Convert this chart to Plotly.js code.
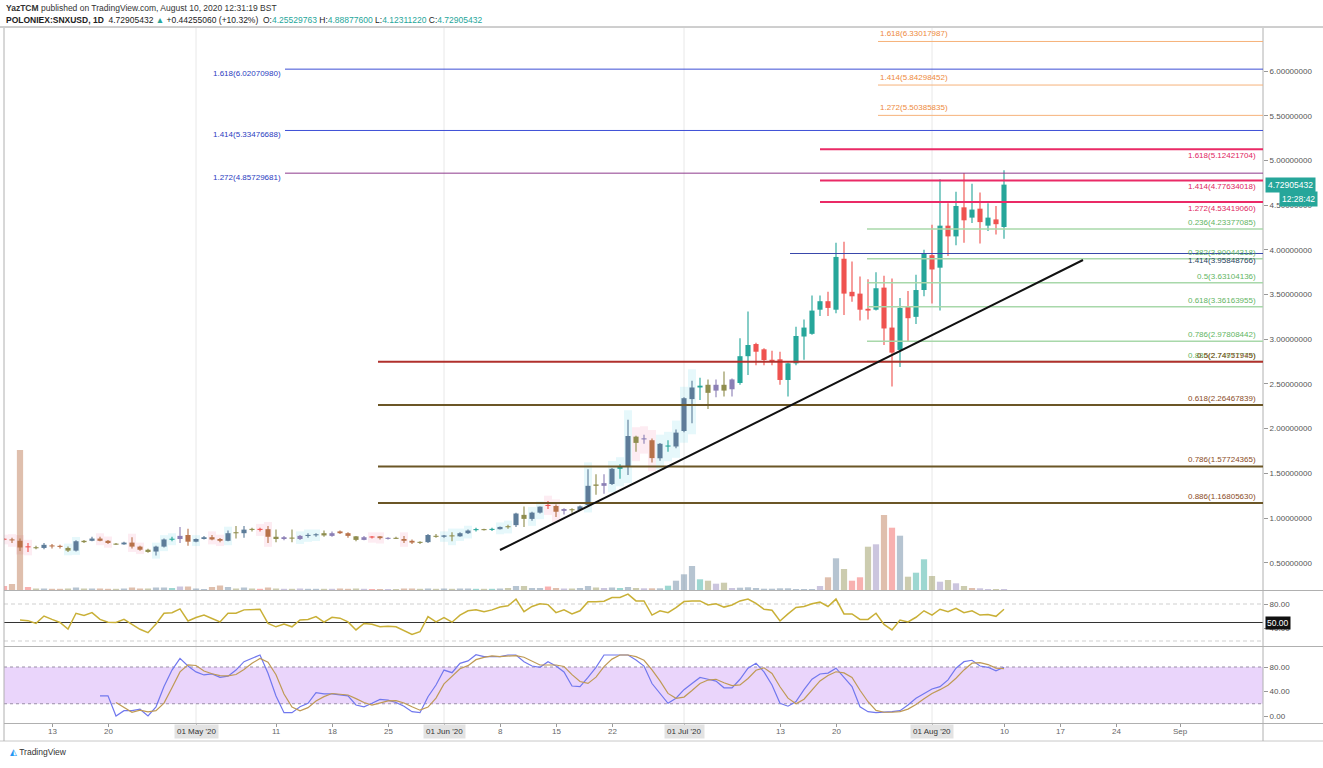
<!DOCTYPE html>
<html><head><meta charset="utf-8">
<script src="https://cdn.plot.ly/plotly-3.0.1.min.js"></script>
<style>html,body{margin:0;padding:0;background:#fff;}#chart{width:1323px;height:768px;}</style>
</head><body><div id="chart"></div>
<script>
// ---------------- DATA ----------------
const startDate = '2020-04-07';   // first daily candle
const open = [0.765,0.76,0.745,0.68,0.67,0.665,0.69,0.685,0.665,0.635,
0.73,0.745,0.77,0.745,0.71,0.705,0.725,0.68,0.645,0.625,
0.68,0.76,0.765,0.81,0.735,0.765,0.785,0.765,0.745,0.83,
0.83,0.87,0.875,0.875,0.79,0.765,0.78,0.765,0.80,0.81,
0.805,0.80,0.85,0.83,0.795,0.755,0.785,0.795,0.77,0.775,
0.765,0.745,0.725,0.73,0.80,0.79,0.80,0.795,0.83,0.865,
0.87,0.87,0.875,0.90,0.92,1.035,0.99,1.06,1.145,1.134,
1.08,1.09,1.09,1.145,1.36,1.36,1.38,1.55,1.574,1.91,
1.88,1.87,1.668,1.80,1.80,1.973,2.33,2.46,2.49,2.425,
2.49,2.44,2.51,2.81,2.946,2.887,2.77,2.775,2.544,2.73,
3.03,3.06,3.33,3.425,3.33,3.90,3.53,3.51,3.34,3.33,
3.577,3.13,2.88,3.365,3.25,3.55,3.94,3.80,4.27,4.15,
4.475,4.36,4.46,4.27,4.34,4.25529763];
const high = [0.775,0.78,0.77,0.72,0.69,0.72,0.71,0.70,0.68,0.75,
0.755,0.79,0.79,0.755,0.72,0.735,0.785,0.69,0.655,0.69,
0.77,0.79,0.90,0.88,0.77,0.80,0.81,0.775,0.86,0.91,
0.91,0.89,0.89,0.91,0.87,0.80,0.87,0.81,0.83,0.83,
0.86,0.85,0.86,0.84,0.80,0.80,0.80,0.80,0.785,0.79,
0.80,0.76,0.74,0.82,0.82,0.81,0.84,0.84,0.87,0.89,
0.88,0.89,0.905,0.925,1.06,1.13,1.07,1.13,1.19,1.15,
1.11,1.11,1.14,1.545,1.49,1.49,1.56,1.60,2.10,1.92,
1.93,1.89,1.84,1.87,1.99,2.35,2.536,2.57,2.55,2.55,
2.64,2.56,3.01,3.31,2.96,2.90,2.87,2.86,2.74,3.14,
3.22,3.49,3.49,3.53,4.08,4.09,3.87,3.70,3.67,3.75,
3.71,3.68,3.46,3.54,3.72,4.00,4.28,4.79,4.52,4.65,
4.86,4.74,4.64,4.52,4.49,4.888776];
const low = [0.75,0.72,0.63,0.62,0.65,0.65,0.66,0.66,0.62,0.625,
0.72,0.74,0.74,0.71,0.70,0.70,0.66,0.635,0.61,0.58,
0.67,0.74,0.72,0.69,0.73,0.76,0.75,0.73,0.74,0.77,
0.78,0.85,0.85,0.72,0.73,0.75,0.73,0.755,0.78,0.79,
0.79,0.79,0.82,0.78,0.74,0.75,0.77,0.76,0.76,0.765,
0.72,0.71,0.71,0.72,0.78,0.78,0.74,0.79,0.82,0.85,
0.86,0.855,0.87,0.88,0.90,0.90,0.97,1.05,1.10,1.01,
1.04,1.06,1.08,1.13,1.26,1.27,1.37,1.44,1.48,1.74,
1.83,1.62,1.64,1.74,1.78,1.96,2.06,2.32,2.22,2.35,
2.36,2.36,2.49,2.60,2.71,2.71,2.71,2.49,2.36,2.71,
2.77,3.05,3.26,3.26,3.29,3.27,3.42,3.21,3.22,3.32,
2.935,2.47,2.69,2.97,3.17,3.48,3.40,3.32,3.93,4.05,
4.08,4.30,4.07,4.21,4.17,4.1231122];
const close = [0.76,0.75,0.67,0.675,0.665,0.70,0.685,0.68,0.635,0.74,
0.745,0.77,0.745,0.72,0.705,0.725,0.68,0.645,0.62,0.68,
0.76,0.765,0.80,0.735,0.765,0.785,0.76,0.745,0.83,0.84,
0.87,0.875,0.87,0.79,0.765,0.785,0.77,0.80,0.81,0.815,
0.83,0.83,0.83,0.80,0.755,0.785,0.79,0.775,0.775,0.77,
0.745,0.725,0.73,0.81,0.79,0.805,0.80,0.83,0.86,0.875,
0.87,0.875,0.90,0.905,1.05,0.99,1.06,1.127,1.135,1.07,
1.10,1.095,1.13,1.36,1.375,1.39,1.55,1.58,1.917,1.84,
1.89,1.67,1.83,1.81,1.955,2.34,2.46,2.48,2.40,2.49,
2.425,2.55,2.81,2.935,2.86,2.767,2.75,2.544,2.73,3.036,
3.13,3.32,3.425,3.35,3.92,3.51,3.48,3.33,3.32,3.57,
3.12,2.85,3.35,3.235,3.55,3.96,3.78,4.27,4.15,4.49,
4.33,4.45,4.31,4.36,4.2865,4.72905432];
const volume = [400,600,14000,300,150,150,120,120,150,250,
150,150,150,120,120,150,250,150,150,250,
250,200,350,350,150,100,300,450,300,150,
250,150,120,250,150,120,120,150,120,120,
120,120,150,120,150,120,100,100,100,100,
150,150,120,150,120,150,120,150,150,120,
120,120,150,200,400,400,200,200,350,200,
150,150,200,400,250,200,250,200,300,200,
170,170,170,430,930,1570,2400,1070,930,630,
730,200,230,270,200,130,130,170,170,100,
100,100,400,1270,3170,2100,930,1270,4330,4570,
7500,6230,5430,1330,1730,3070,1400,830,1000,670,
400,200,170,100,100,100];
const rsi = [null,null,54,53,48.6,60.5,55,50,39.5,65,
61.5,66,55,50.5,50,55,47,39,33.5,47.5,
65,66,72,52.5,58,62,56.5,51,65,65,
70.5,71.5,71.5,48.5,43,47.5,43,54,55,59.5,
50.5,58.5,57,51,38,48.5,47,43,44,43,
36.5,30.5,35,59.5,51,58,50.5,62,69,70.5,
67.5,70.5,75,77,88,67.5,76,80.5,79,66,
70.5,64,69,83.5,83.5,84.5,90.5,90.5,96,85,
85,62,69,66,74,84,85,85,78.5,80.5,
75,78.5,85,88,81,71.5,70,52.5,64,74.5,
76,80.5,83,76,88,64,64,55,55,65,
47,38,54,51,58.5,69,62,71.5,67.5,73,
66,69,62,63,60,71.5];
const stochK = [null,null,null,null,null,null,null,null,null,null,
null,null,33,33,0,8.7,8.7,11,0,15,
48,75,94,81.6,72,67,68.6,63,65,75,
88.7,94,99.6,69.7,32.6,5.4,5.4,15,20.7,38,
36,36,34,33,18,15,20.7,27,26,22,
16,7,5.4,31.5,50.6,75,70.7,86,90,100,
97,97,97,99.6,99.6,88.7,81.6,79.5,88.7,81.6,
72,49,48,63,79.5,99.6,99.6,99.6,99.6,91.4,
81.6,53,37,20.7,29,43,53,63,60,57,
46,46,60,78,86,72,50.6,20.7,16,23.6,
43,60,68.6,70,78,63,48,15,7,5.4,
6,7,8.7,18,29,37,44,48,59,78,
88.7,91,81.6,79.5,73.6,79.5];
const stochD = [null,null,null,null,null,null,null,null,null,null,
null,null,null,null,22,14,6,9.5,6.6,8.7,
21,46,72,83.5,82.5,73.5,69,66,65.5,67.7,
76,86,94,87.8,67.3,35.9,14.5,8.6,13.7,24.6,
31.6,36.7,35.3,34.3,28.3,22,17.9,20.9,24.6,25,
21.3,15,9.5,14.6,29.2,52.4,65.4,77.2,82.2,92,
95.7,98,97,97.9,98.7,96,90,83.3,83.3,83.3,
80.8,67.5,56.3,53.3,63.5,80.7,92.9,99.6,99.6,96.9,
90.9,75.3,57.2,36.9,28.9,30.9,41.7,53,58.7,60,
54.3,49.7,50.7,61.3,74.7,78.7,69.5,47.8,29.1,20.1,
27.5,42.2,57.2,66.2,72.2,70.3,63,42,23.3,9.1,
6.1,6.1,7.2,11.2,18.6,28,36.7,43,50.3,61.7,
75.2,86.2,87.1,84,78.2,77.5];
// colour code of each early bar (indicator bar colouring); later bars use up/down colours
const barTone = ("RBBROSBBOS"+"OSBBOSBBOS"+"STPBSSBBSO"+"SORBOPOPSS"+"OPBBOPRBPO"+
                 "BBOSOSOSST"+"OTSOSOSSRB"+"POSSOPSTSO"+"PBSTSSSTOP"+"OP").split('');
const volToneLate = "SSSSSSSSSSPBSORROPBRSOTTOPOPOBPPOP".split('');
// highlight behind early bars: c = cyan, p = pink, . = none
const barHighlight = ("pppp....cc"+"..pp..pp.c"+"cc..c.ppc."+"..pp...ccc"+"......pp.."+
                      "p....cccc."+"..cc..ccpp"+"...c..cccp"+"ppccccc...").split('');

// x axis tick labels
const tickDates = ['2020-04-13','2020-04-20','2020-05-01','2020-05-11','2020-05-18','2020-05-25','2020-06-01','2020-06-08','2020-06-15','2020-06-22','2020-07-01','2020-07-13','2020-07-20','2020-08-01','2020-08-10','2020-08-17','2020-08-24','2020-09-01'];
const tickLabels = ['13','20',"01 May '20",'11','18','25',"01 Jun '20",'8','15','22',"01 Jul '20",'13','20',"01 Aug '20",'10','17','24','Sep'];
const priceTicks = [0.5,1,1.5,2,2.5,3,3.5,4,4.5,5,5.5,6];

// Fibonacci drawings
const fibOrangeLevels = [1.618,1.414,1.272];
const fibOrangeValues = [6.33017987,5.84298452,5.50385835];
const fibBlueLevels = [1.618,1.414,1.272];
const fibBlueValues = [6.02070980,5.33476688,4.85729681];
const fibRedLevels = [1.618,1.414,1.272];
const fibRedValues = [5.12421704,4.77634018,4.53419060];
const fibGreenLevels = [0.236,0.382,0.5,0.618,0.786,0.886];
const fibGreenValues = [4.23377085,3.90044318,3.63104136,3.36163955,2.97808442,2.74977779];
const fibBrownLevels = [0.5,0.618,0.786,0.886];
const fibBrownValues = [2.74751945,2.26467839,1.57724365,1.16805630];
const fibNavyLevels = [1.414];
const fibNavyValues = [3.95848766];
const trendLineDates = ['2020-06-08','2020-08-19 21:00'];
const trendLineValues = [0.642,3.886];

const lastPrice = 4.72905432;
const countdown = '12:28:42';

// ---------------- LAYOUT HELPERS ----------------
const L=4, R=1263, T=28, B=723;            // plot area in px
const px2x = p => (p-L)/(R-L);
const px2y = p => (B-p)/(B-T);
const DAY = 864e5;
const d0 = new Date(startDate+'T00:00:00Z').getTime();
const dAt = px => new Date(d0 + (px-L)/8*DAY).toISOString().replace('T',' ').slice(0,19);
const xStart = dAt(L), xEnd = dAt(R);

const N = open.length;
const dates = [];
for (let i=0;i<N;i++) dates.push(new Date(d0+i*DAY).toISOString().slice(0,10));

const toneColor = {T:'#26a69a',R:'#ef5350',S:'#5d7c99',O:'#8f8d4e',P:'#8b7fb5',B:'#b8724a'};
const hexA = (h,a)=>{const n=parseInt(h.slice(1),16);return `rgba(${n>>16},${(n>>8)&255},${n&255},${a})`;};
const tones = dates.map((d,i)=> i<barTone.length ? barTone[i] : (close[i]>=open[i]?'T':'R'));
const vtones = dates.map((d,i)=> i<barTone.length ? barTone[i] : volToneLate[i-barTone.length]);
const candleCol = tones.map(t=>toneColor[t]);
const volCol = vtones.map(t=>hexA(toneColor[t],0.45));

const minBody = 0.012;
const bodyH = open.map((o,i)=>Math.max(Math.abs(close[i]-o),minBody));
const bodyBase = open.map((o,i)=>Math.min(o,close[i]) - (bodyH[i]-Math.abs(close[i]-o))/2);

// highlight boxes around the highlighted bars
const hlColor = {c:'rgba(128,222,234,0.20)', p:'rgba(248,187,208,0.28)', '.':'rgba(0,0,0,0)'};
const hlIdx = barHighlight.map((h,i)=>h!=='.'?i:-1).filter(i=>i>=0);
const hlX = hlIdx.map(i=>dates[i]);
const hlBase = hlIdx.map(i=>low[i]*0.94);
const hlH = hlIdx.map(i=>high[i]*1.05-low[i]*0.94);
const hlCol = hlIdx.map(i=>hlColor[barHighlight[i]]);

const traces = [
 {type:'bar', x:hlX, y:hlH, base:hlBase, marker:{color:hlCol,line:{width:0}}, width:1.0*DAY, hoverinfo:'skip'},
 {type:'bar', x:dates, y:volume, yaxis:'y4', marker:{color:volCol,line:{width:0}}, width:0.78*DAY, hoverinfo:'skip'},
 {type:'bar', x:dates, y:high.map((h,i)=>h-low[i]), base:low, marker:{color:candleCol,line:{width:0}}, width:0.14*DAY, hoverinfo:'skip'},
 {type:'bar', x:dates, y:bodyH, base:bodyBase, marker:{color:candleCol,line:{width:0}}, width:0.64*DAY, hoverinfo:'skip'},
 {type:'scatter', mode:'lines', x:dates, y:rsi, yaxis:'y2', line:{color:'#c9b037',width:1.5}, hoverinfo:'skip'},
 {type:'scatter', mode:'lines', x:dates, y:stochK, yaxis:'y3', line:{color:'#7178ee',width:1.2}, hoverinfo:'skip'},
 {type:'scatter', mode:'lines', x:dates, y:stochD, yaxis:'y3', line:{color:'#bf9a55',width:1.2}, hoverinfo:'skip'}
];

const shapes = [];
const annotations = [];
const txt = (o)=>annotations.push(Object.assign({showarrow:false, font:{family:'Liberation Sans, Arial', size:8, color:'#555'}}, o));

// frame / pane separators
const hline = (py,x0,x1,color,w)=>shapes.push({type:'line',xref:'paper',yref:'paper',x0:px2x(x0),x1:px2x(x1),y0:px2y(py),y1:px2y(py),line:{color:color,width:w||1},layer:'above'});
hline(27,0,1323,'#9e9e9e',1);
hline(590.5,L,1323,'#b0b0b0',1);
hline(646.5,L,1323,'#b0b0b0',1);
hline(723.5,L,1323,'#b0b0b0',1);
hline(741,0,1323,'#c8c8c8',1);
shapes.push({type:'line',xref:'paper',yref:'paper',x0:px2x(L),x1:px2x(L),y0:px2y(28),y1:px2y(741),line:{color:'#b0b0b0',width:1}});
shapes.push({type:'line',xref:'paper',yref:'paper',x0:px2x(R),x1:px2x(R),y0:px2y(28),y1:px2y(741),line:{color:'#b0b0b0',width:1}});

// month grid lines
tickLabels.forEach((t,k)=>{ if(t.indexOf("'20")>0) shapes.push({type:'line',xref:'x',yref:'paper',x0:tickDates[k],x1:tickDates[k],y0:0,y1:1,line:{color:'#e8e8e8',width:1},layer:'below'}); });

// RSI guides
[80,20].forEach(v=>shapes.push({type:'line',xref:'paper',yref:'y2',x0:0,x1:1,y0:v,y1:v,line:{color:'#cfcfcf',width:1,dash:'4px,3px'},layer:'below'}));
shapes.push({type:'line',xref:'paper',yref:'y2',x0:0,x1:1,y0:50,y1:50,line:{color:'#333',width:1},layer:'below'});
// Stoch RSI band
shapes.push({type:'rect',xref:'paper',yref:'y3',x0:0,x1:1,y0:20,y1:80,fillcolor:'#ead5fb',line:{width:0},layer:'below'});
[80,20].forEach(v=>shapes.push({type:'line',xref:'paper',yref:'y3',x0:0,x1:1,y0:v,y1:v,line:{color:'#9a8fa8',width:1.2,dash:'3px,3px'},layer:'below'}));

// fib drawing helper
function fib(levels, values, startPx, lineColors, width, labelColor, mode){
  levels.forEach((lv,k)=>{
    const v = values[k];
    shapes.push({type:'line',xref:'x',yref:'y',x0:dAt(startPx),x1:xEnd,y0:v,y1:v,line:{color:Array.isArray(lineColors)?lineColors[k]:lineColors,width:width},layer:'above'});
    const label = lv+'('+v.toFixed(8)+')';
    const f = {family:'Liberation Sans, Arial',size:8,color:Array.isArray(labelColor)?labelColor[k]:labelColor};
    if(mode==='leftOut') txt({xref:'x',yref:'y',x:dAt(startPx-2),y:v,xanchor:'right',yanchor:'middle',yshift:-4,text:label,font:f});
    else if(mode==='leftAbove') txt({xref:'x',yref:'y',x:dAt(startPx),y:v,xanchor:'left',yanchor:'bottom',yshift:1,text:label,font:f});
    else if(mode==='rightAbove') txt({xref:'paper',yref:'y',x:px2x(1258),y:v,xanchor:'right',yanchor:'bottom',yshift:0,text:label,font:f});
    else txt({xref:'paper',yref:'y',x:px2x(1258),y:v,xanchor:'right',yanchor:'top',yshift:0,text:label,font:f});
  });
}
fib(fibOrangeLevels,fibOrangeValues,878,'#f6b27a',1,'#ee8a3c','leftAbove');
fib(fibBlueLevels,fibBlueValues,285,['#3d4fd6','#3d4fd6','#8e3a8c'],1,'#2b3cc0','leftOut');
fib(fibRedLevels,fibRedValues,820,'#ea2a66',2,'#e0245e','rightBelow');
fib(fibGreenLevels,fibGreenValues,867,'#a8d8aa',1.5,'#5fb563','rightAbove');
fib(fibBrownLevels,fibBrownValues,378,['#b0302c','#6b5626','#6b5626','#6b5626'],2,'#8a4b25','rightAbove');
fib(fibNavyLevels,fibNavyValues,790,'#3948ab',1,'#27445e','rightBelow');

// trend line
shapes.push({type:'line',xref:'x',yref:'y',x0:trendLineDates[0],x1:trendLineDates[1],y0:trendLineValues[0],y1:trendLineValues[1],line:{color:'#111',width:2},layer:'above'});

// header
txt({xref:'paper',yref:'paper',x:px2x(4),y:px2y(8),xanchor:'left',yanchor:'middle',
  text:'<b>YazTCM</b> published on TradingView.com, August 10, 2020 12:31:19 BST',font:{family:'Liberation Sans, Arial',size:8.5,color:'#333'}});
const g = s=>'<span style="color:#26a69a">'+s+'</span>';
txt({xref:'paper',yref:'paper',x:px2x(4),y:px2y(20),xanchor:'left',yanchor:'middle',
  text:'<b>POLONIEX:SNXUSD, 1D</b>  4.72905432 '+g('▲')+' +0.44255060 (+10.32%)  O:'+g('4.25529763')+' H:'+g('4.88877600')+' L:'+g('4.12311220')+' C:'+g('4.72905432'),
  font:{family:'Liberation Sans, Arial',size:8.5,color:'#222'}});

// last price & countdown boxes
txt({xref:'paper',yref:'y',x:px2x(1265),y:lastPrice,xanchor:'left',yanchor:'middle',text:lastPrice.toFixed(8),bgcolor:'#26a69a',borderpad:2,font:{family:'Liberation Sans, Arial',size:8.5,color:'#fff'}});
txt({xref:'paper',yref:'y',x:px2x(1318),y:lastPrice,yshift:-14,xanchor:'right',yanchor:'middle',text:countdown,bgcolor:'#26a69a',borderpad:2,font:{family:'Liberation Sans, Arial',size:8.5,color:'#fff'}});
txt({xref:'paper',yref:'y2',x:px2x(1265),y:50,xanchor:'left',yanchor:'middle',text:'50.00',bgcolor:'#111',borderpad:1,font:{family:'Liberation Sans, Arial',size:8.5,color:'#fff'}});

// time axis labels
tickLabels.forEach((t,k)=>{
  const month = t.indexOf("'20")>0;
  txt({xref:'x',yref:'paper',x:tickDates[k],y:px2y(731),xanchor:'center',yanchor:'middle',text:t,
       bgcolor:month?'#e3e3e3':'rgba(0,0,0,0)',borderpad:2,font:{family:'Liberation Sans, Arial',size:8,color:month?'#333':'#666'}});
});
// footer
txt({xref:'paper',yref:'paper',x:px2x(8),y:px2y(752),xanchor:'left',yanchor:'middle',
  text:'<span style="color:#2196f3">◭</span> TradingView',font:{family:'Liberation Sans, Arial',size:8.5,color:'#333'}});

const ax = {showgrid:false,zeroline:false};
const layout = {
  width:1323,height:768,margin:{l:L,r:1323-R,t:T,b:768-B,pad:0},
  paper_bgcolor:'#fff',plot_bgcolor:'#fff',showlegend:false,hovermode:false,barmode:'overlay',
  font:{family:'Liberation Sans, Arial',size:8,color:'#555'},
  xaxis:Object.assign({},ax,{type:'date',range:[xStart,xEnd],anchor:'y3',showticklabels:false,tickvals:tickDates,ticks:'outside',ticklen:3,tickcolor:'#999',showline:false}),
  yaxis:Object.assign({},ax,{domain:[px2y(590),1],range:[1+(518-590)/89.4,1+(518-28)/89.4],side:'right',anchor:'x',
        tickvals:priceTicks,tickformat:'.8f',ticks:'outside',ticklen:4,tickcolor:'#999',showline:false,tickfont:{size:8,color:'#555'}}),
  yaxis2:Object.assign({},ax,{domain:[px2y(646),px2y(591)],range:[11.9,101.1],side:'right',anchor:'x',
        tickvals:[80,40],ticktext:['80.00','40.00'],ticks:'outside',ticklen:4,tickcolor:'#999',tickfont:{size:8,color:'#555'}}),
  yaxis3:Object.assign({},ax,{domain:[0,px2y(647)],range:[-11.43,112.65],side:'right',anchor:'x',
        tickvals:[0,40,80],ticktext:['0.00','40.00','80.00'],ticks:'outside',ticklen:4,tickcolor:'#999',tickfont:{size:8,color:'#555'}}),
  yaxis4:Object.assign({},ax,{overlaying:'y',range:[0,56200],visible:false}),
  shapes:shapes, annotations:annotations
};
Plotly.newPlot('chart',traces,layout,{displayModeBar:false,staticPlot:true});
</script></body></html>
